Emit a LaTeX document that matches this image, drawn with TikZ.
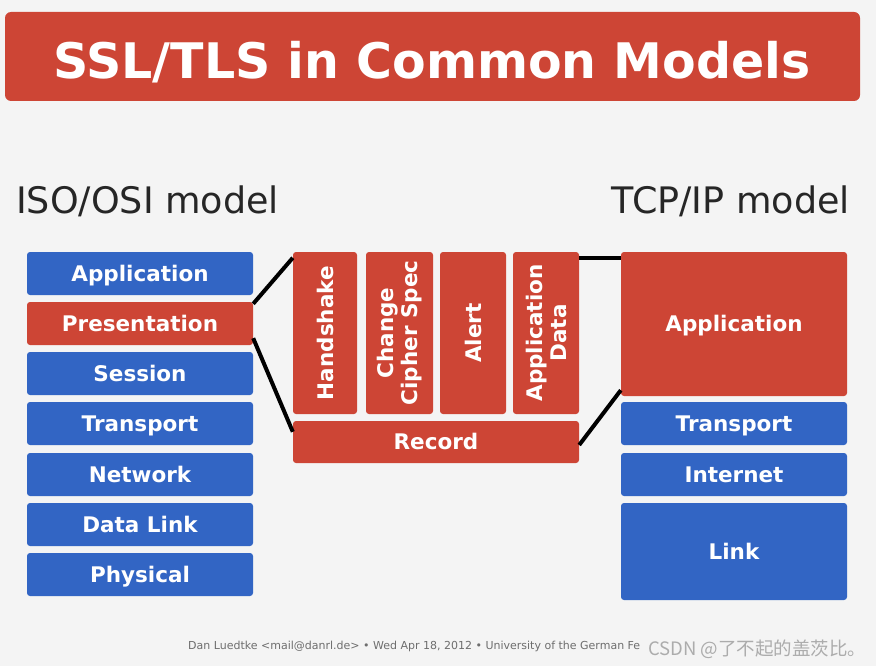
\documentclass[tikz,border=0pt]{standalone}
\usepackage{fontspec}
\setmainfont{DejaVu Sans}
\newfontfamily\cjkfont{Noto Sans CJK SC}
\definecolor{bgc}{RGB}{244,244,244}
\definecolor{slred}{RGB}{205,69,53}
\definecolor{slblue}{RGB}{50,101,196}
\definecolor{footgray}{RGB}{110,110,110}
\tikzset{
  layerbox/.style={rounded corners=3pt, inner sep=0pt, text=white,
    font=\bfseries\fontsize{21.5}{24}\selectfont, align=center},
  bluebox/.style={layerbox, fill=slblue, text height=15.7pt, text depth=0pt},
  redbox/.style={layerbox, fill=slred, text height=15.7pt, text depth=0pt},
  vlabel/.style={rotate=90, text=white, font=\bfseries\fontsize{21.5}{24}\selectfont, inner sep=0pt, align=center},
  conn/.style={line width=4pt, black},
  modellabel/.style={font=\fontsize{36.5}{40}\selectfont, text=black!85, inner sep=0pt}
}
\begin{document}
\begin{tikzpicture}[x=1pt,y=-1pt]
\fill[bgc] (0,0) rectangle (876,666);
\useasboundingbox (0,0) rectangle (876,666);
% title
\node[fill=slred, rounded corners=6pt, minimum width=855pt, minimum height=89pt, inner sep=0pt] (title) at (432.5,56.5) {};
\node[inner sep=0pt, text=white, font=\bfseries\fontsize{49}{54}\selectfont, text height=35.8pt, text depth=0pt] (titlet) at (432,61) {SSL/TLS in Common Models};
% model labels
\node[modellabel, anchor=base west] (iso) at (16,214) {ISO/OSI model};
\node[modellabel, anchor=base east] (tcp) at (850,214) {TCP/IP model};
% OSI column
\node[bluebox, minimum width=226pt, minimum height=43pt] (oapp) at (140,273.5) {Application};
\node[redbox,  minimum width=226pt, minimum height=43pt] (pres) at (140,323.5) {Presentation};
\node[bluebox, minimum width=226pt, minimum height=43pt] (sess) at (140,373.5) {Session};
\node[bluebox, minimum width=226pt, minimum height=43pt] (otra) at (140,423.5) {Transport};
\node[bluebox, minimum width=226pt, minimum height=43pt] (net)  at (140,474.5) {Network};
\node[bluebox, minimum width=226pt, minimum height=43pt] (dl)   at (140,524.5) {Data Link};
\node[bluebox, minimum width=226pt, minimum height=43pt] (phy)  at (140,574.5) {Physical};
% SSL/TLS middle
\node[redbox, minimum width=64pt, minimum height=162pt] (hs) at (325,333) {};
\node[vlabel] (hst) at (hs.center) {Handshake};
\node[redbox, minimum width=67pt, minimum height=162pt] (ccs) at (399.5,333) {};
\node[vlabel] (ccst) at (ccs.center) {Change\\Cipher Spec};
\node[redbox, minimum width=66pt, minimum height=162pt] (alert) at (473,333) {};
\node[vlabel] (alertt) at (alert.center) {Alert};
\node[redbox, minimum width=66pt, minimum height=162pt] (ad) at (546,333) {};
\node[vlabel] (adt) at (ad.center) {Application\\Data};
\node[redbox, minimum width=286pt, minimum height=42pt] (rec) at (436,442) {Record};
% TCP/IP column
\node[redbox,  minimum width=226pt, minimum height=144pt] (tapp) at (734,324) {Application};
\node[bluebox, minimum width=226pt, minimum height=43pt] (ttra) at (734,423.5) {Transport};
\node[bluebox, minimum width=226pt, minimum height=43pt] (tint) at (734,474.5) {Internet};
\node[bluebox, minimum width=226pt, minimum height=97pt] (link) at (734,551.5) {Link};
% connectors
\draw[conn] ([yshift=-2pt]pres.north east) -- ([yshift=-6pt]hs.north west);
\draw[conn] ([yshift=7pt]pres.south east) -- ([yshift=-11pt]rec.north west);
\draw[conn] ([yshift=-6pt]ad.north east) -- ([yshift=-6pt]tapp.north west);
\draw[conn] ([yshift=-3pt]rec.east) -- ([yshift=6pt]tapp.south west);
% footer
\node[anchor=base west, inner sep=0pt, text=footgray, font=\fontsize{11}{12}\selectfont] (foot) at (188,649)
  {Dan Luedtke <mail@danrl.de> \textbullet\ Wed Apr 18, 2012 \textbullet\ University of the German Fe};
\node[anchor=base west, inner sep=0pt, text=gray!65, font=\cjkfont\fontsize{18.5}{20}\selectfont] (wm) at (648,655)
  {CSDN @了不起的盖茨比。};
\end{tikzpicture}
\end{document}
